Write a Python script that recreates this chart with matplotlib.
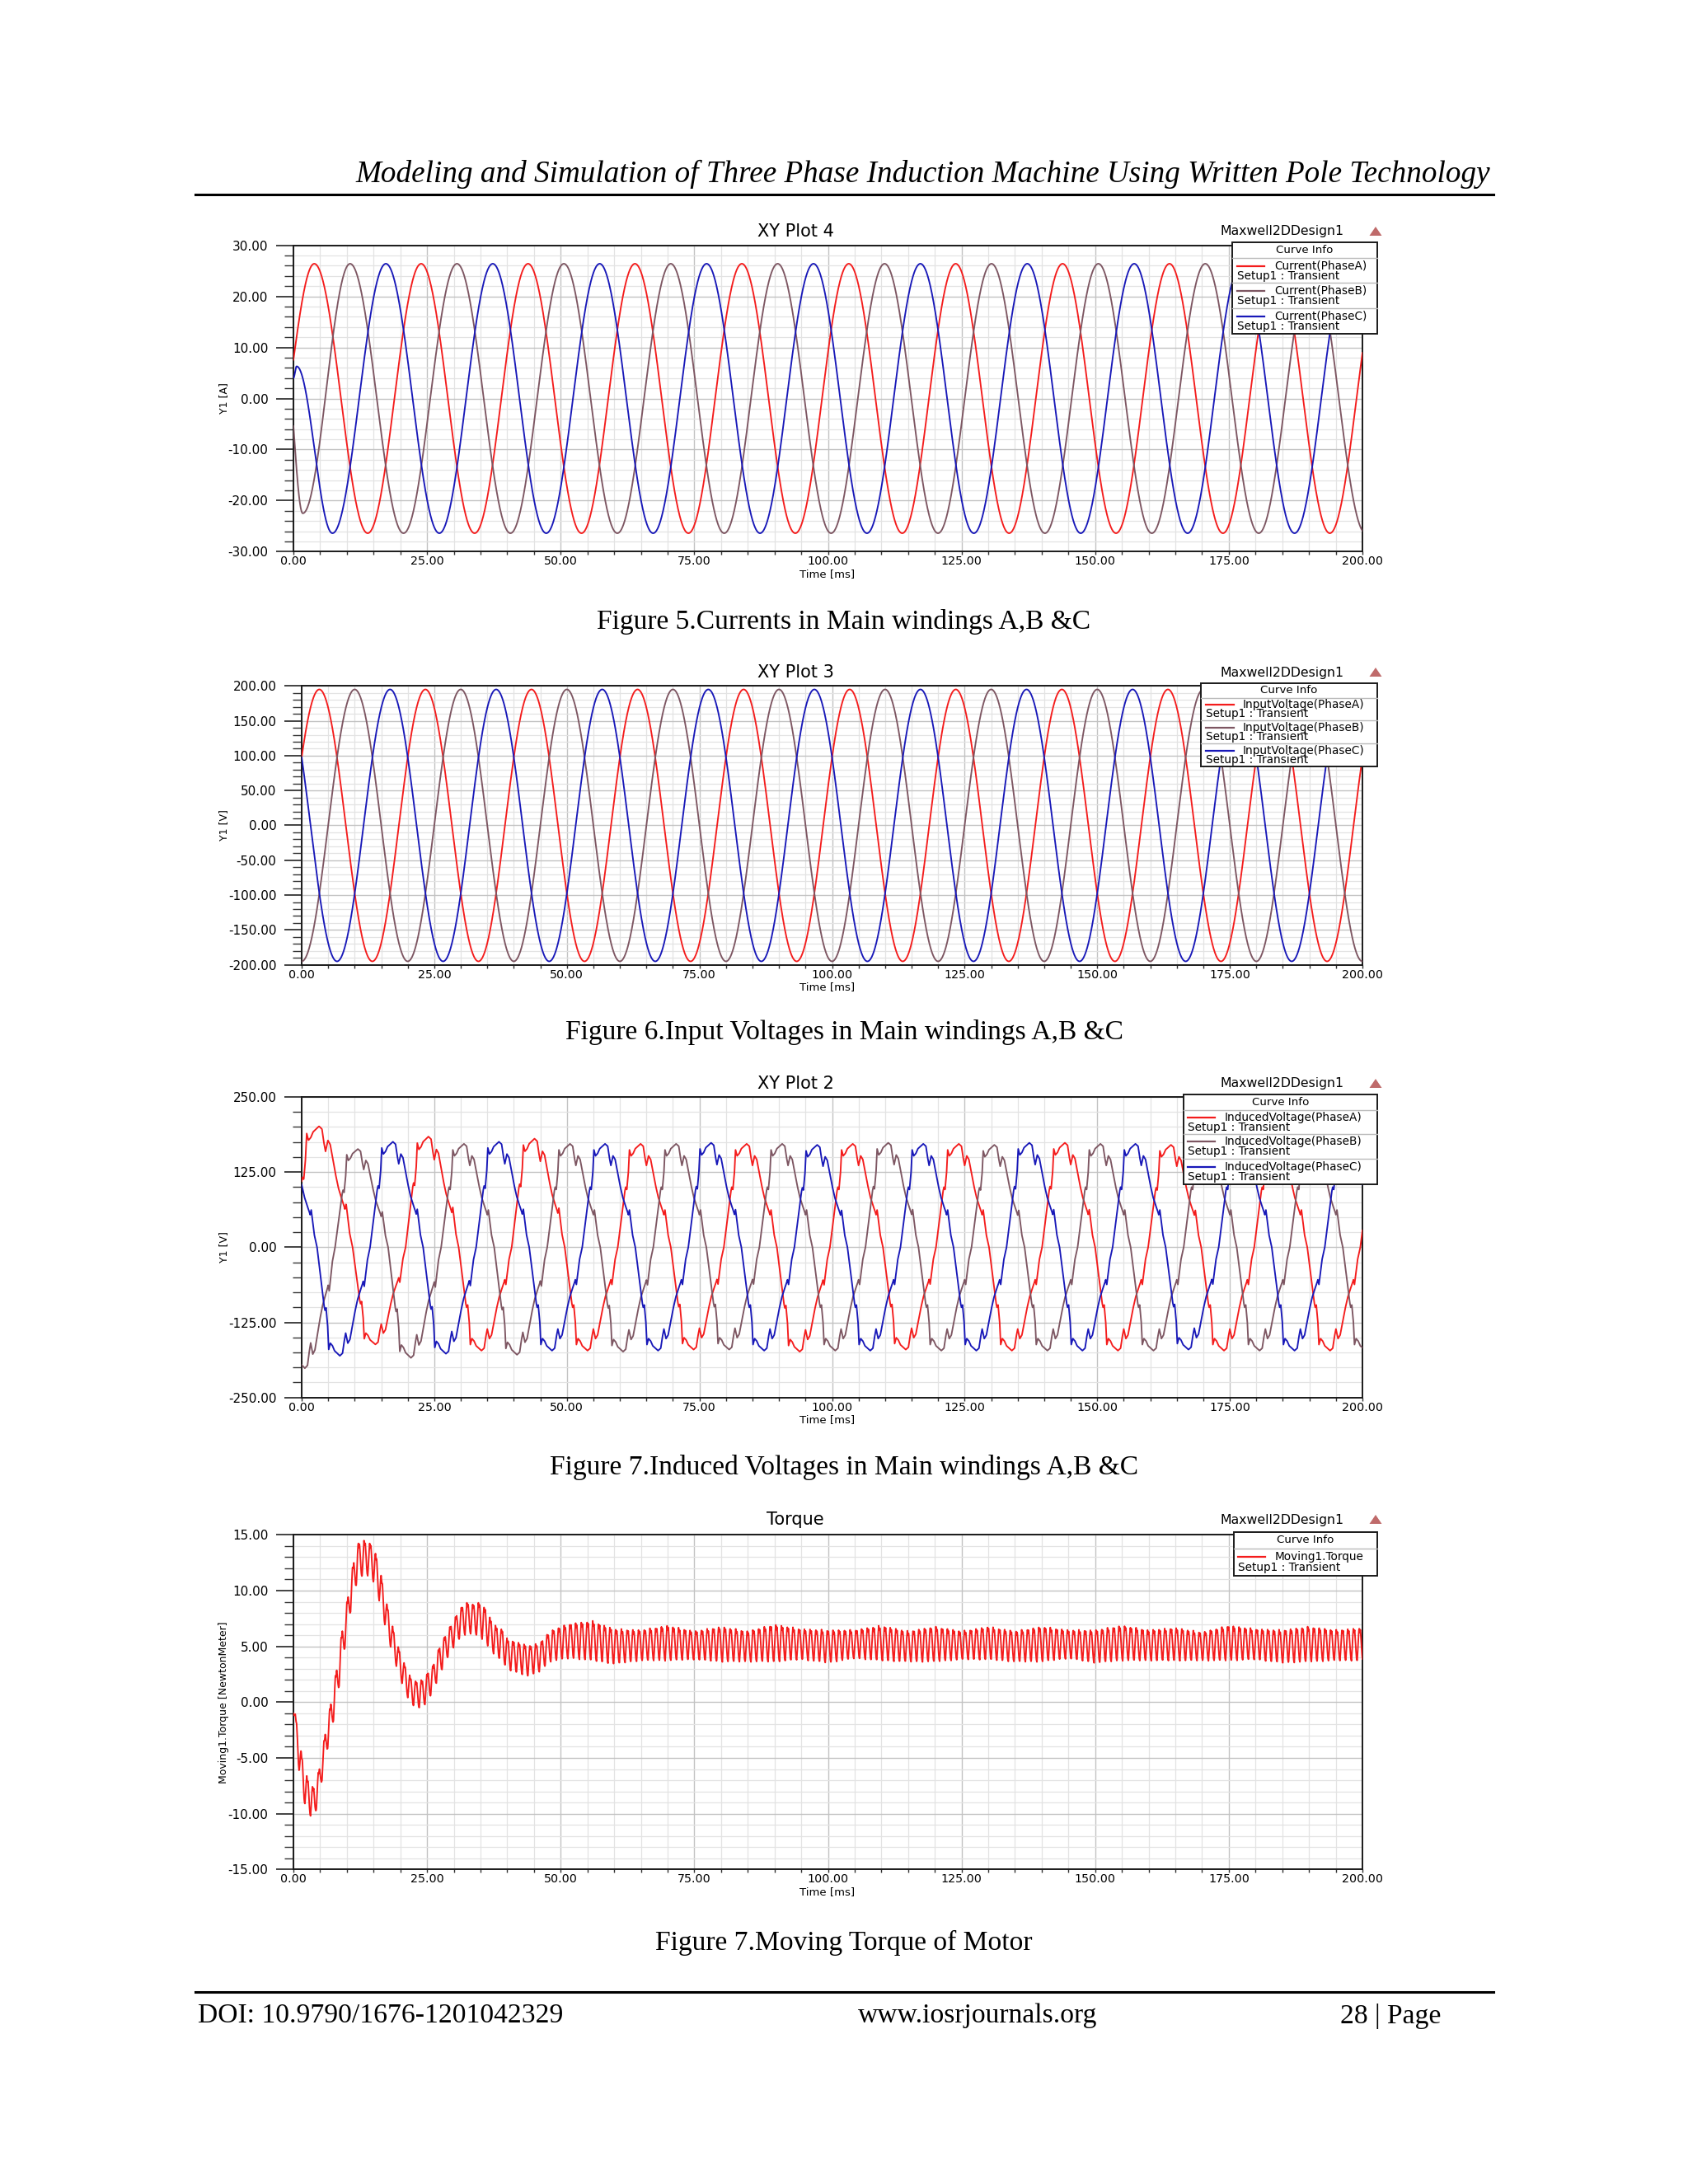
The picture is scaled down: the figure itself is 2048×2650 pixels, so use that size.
import numpy as np
import matplotlib
matplotlib.use("Agg")
import matplotlib.pyplot as plt
from matplotlib.ticker import MultipleLocator, FormatStrFormatter
from matplotlib.patches import Rectangle, Polygon

# ======================= DATA =======================
HEADER = "Modeling and Simulation of Three Phase Induction Machine Using Written Pole Technology"
FOOT_LEFT = "DOI: 10.9790/1676-1201042329"
FOOT_MID = "www.iosrjournals.org"
FOOT_RIGHT = "28 | Page"

PLOT_TITLES = ["XY Plot 4", "XY Plot 3", "XY Plot 2", "Torque"]
CAPTIONS = ["Figure 5.Currents in Main windings A,B &C",
            "Figure 6.Input Voltages in Main windings A,B &C",
            "Figure 7.Induced Voltages in Main windings A,B &C",
            "Figure 7.Moving Torque of Motor"]
YLABELS = ["Y1 [A]", "Y1 [V]", "Y1 [V]", "Moving1.Torque [NewtonMeter]"]
XLABEL = "Time [ms]"
DESIGN = "Maxwell2DDesign1"

LEG_CURRENT = ["Current(PhaseA)", "Current(PhaseB)", "Current(PhaseC)"]
LEG_INPUT = ["InputVoltage(PhaseA)", "InputVoltage(PhaseB)", "InputVoltage(PhaseC)"]
LEG_INDUCED = ["InducedVoltage(PhaseA)", "InducedVoltage(PhaseB)", "InducedVoltage(PhaseC)"]
LEG_TORQUE = ["Moving1.Torque"]
LEG_SETUP = "Setup1 : Transient"

# Currents: extremum times [ms] and values [A]
CUR_A_T = [-4.0, 3.9, 13.9, 23.9, 33.9, 43.9, 53.9, 63.9, 73.9, 83.9, 93.9, 103.9,
           113.9, 123.9, 133.9, 143.9, 153.9, 163.9, 173.9, 183.9, 193.9, 203.9]
CUR_A_V = [-12.0, 26.4, -26.4, 26.4, -26.4, 26.4, -26.4, 26.4, -26.4, 26.4, -26.4, 26.4,
           -26.4, 26.4, -26.4, 26.4, -26.4, 26.4, -26.4, 26.4, -26.4, 26.4]
CUR_B_T = [-1.5, 1.75, 10.6, 20.6, 30.6, 40.6, 50.6, 60.6, 70.6, 80.6, 90.6, 100.6,
           110.6, 120.6, 130.6, 140.6, 150.6, 160.6, 170.6, 180.6, 190.6, 200.6]
CUR_B_V = [8.0, -22.5, 26.4, -26.4, 26.4, -26.4, 26.4, -26.4, 26.4, -26.4, 26.4, -26.4,
           26.4, -26.4, 26.4, -26.4, 26.4, -26.4, 26.4, -26.4, 26.4, -26.4]
CUR_C_T = [0.0, 0.6, 7.3, 17.3, 27.3, 37.3, 47.3, 57.3, 67.3, 77.3, 87.3, 97.3,
           107.3, 117.3, 127.3, 137.3, 147.3, 157.3, 167.3, 177.3, 187.3, 197.3, 207.3]
CUR_C_V = [4.0, 6.3, -26.4, 26.4, -26.4, 26.4, -26.4, 26.4, -26.4, 26.4, -26.4, 26.4,
           -26.4, 26.4, -26.4, 26.4, -26.4, 26.4, -26.4, 26.4, -26.4, 26.4, -26.4]

# Input voltages: extremum times [ms] and values [V]
VIN_A_T = [-6.67, 3.33, 13.33, 23.33, 33.33, 43.33, 53.33, 63.33, 73.33, 83.33, 93.33,
           103.33, 113.33, 123.33, 133.33, 143.33, 153.33, 163.33, 173.33, 183.33, 193.33, 203.33]
VIN_A_V = [-195, 195, -195, 195, -195, 195, -195, 195, -195, 195, -195,
           195, -195, 195, -195, 195, -195, 195, -195, 195, -195, 195]
VIN_B_T = [-10.0, 0.0, 10.0, 20.0, 30.0, 40.0, 50.0, 60.0, 70.0, 80.0, 90.0,
           100.0, 110.0, 120.0, 130.0, 140.0, 150.0, 160.0, 170.0, 180.0, 190.0, 200.0]
VIN_B_V = [195, -195, 195, -195, 195, -195, 195, -195, 195, -195, 195,
           -195, 195, -195, 195, -195, 195, -195, 195, -195, 195, -195]
VIN_C_T = [-3.33, 6.67, 16.67, 26.67, 36.67, 46.67, 56.67, 66.67, 76.67, 86.67, 96.67,
           106.67, 116.67, 126.67, 136.67, 146.67, 156.67, 166.67, 176.67, 186.67, 196.67, 206.67]
VIN_C_V = [195, -195, 195, -195, 195, -195, 195, -195, 195, -195, 195,
           -195, 195, -195, 195, -195, 195, -195, 195, -195, 195, -195]

# Induced voltage: shape of one positive half cycle (ms from zero crossing, volts)
IND_SHAPE_T = [0.0, 0.4, 0.9, 1.3, 1.5, 1.7, 2.0, 2.2, 2.5, 2.9, 3.3, 3.8, 4.3, 4.8,
               5.1, 5.4, 5.8, 6.2, 6.6, 7.1, 7.6, 8.1, 8.5, 8.7, 8.9, 9.5, 10.0]
IND_SHAPE_V = [0, 28, 62, 92, 100, 96, 125, 162, 152, 156, 164, 168, 172, 168,
               150, 136, 152, 146, 128, 104, 84, 70, 60, 54, 62, 20, 0]
# half-cycle start times [ms], first-half polarity and per-half amplitude factors
IND_A_START = [-1.5, 9.6, 19.6, 29.6, 39.6, 49.6, 59.6, 69.6, 79.6, 89.6, 99.6,
               109.6, 119.6, 129.6, 139.6, 149.6, 159.6, 169.6, 179.6, 189.6, 199.6, 209.6]
IND_A_AMP = [1.17, 0.94, 1.07, 1.00, 1.05, 1.00, 1.00, 0.99, 1.00, 1.01, 1.00,
             0.99, 1.00, 1.00, 1.01, 1.00, 0.99, 1.00, 1.00, 1.00, 1.00]
IND_B_START = [-3.7, 6.3, 16.3, 26.3, 36.3, 46.3, 56.3, 66.3, 76.3, 86.3, 96.3,
               106.3, 116.3, 126.3, 136.3, 146.3, 156.3, 166.3, 176.3, 186.3, 196.3, 206.3]
IND_B_AMP = [1.17, 0.95, 1.07, 1.00, 1.04, 1.00, 1.01, 1.00, 0.99, 1.00, 1.00,
             1.01, 1.00, 0.99, 1.00, 1.00, 1.00, 1.00, 1.00, 1.00, 1.00]
IND_C_START = [-7.1, 2.9, 12.9, 22.9, 32.9, 42.9, 52.9, 62.9, 72.9, 82.9, 92.9,
               102.9, 112.9, 122.9, 132.9, 142.9, 152.9, 162.9, 172.9, 182.9, 192.9, 202.9]
IND_C_AMP = [1.00, 1.05, 1.02, 1.03, 1.02, 1.00, 1.00, 1.00, 1.01, 1.00, 0.99,
             1.00, 1.00, 1.00, 1.01, 1.00, 1.00, 0.99, 1.00, 1.00, 1.00]
IND_POLARITY = [1, -1, 1]

# Torque: slow mean level and ripple half-range [N.m], ripple shape over one period
TQ_T = [0, 1, 2, 3, 4, 5, 6, 7, 8, 9, 10, 11, 12, 13, 14, 15, 16, 17, 18, 19, 20, 21, 22,
        23, 24, 25, 26, 27, 28, 29, 30, 31, 32, 33, 34, 35, 36, 37, 38, 39, 40, 42, 44,
        46, 48, 50, 52, 56, 60, 65, 70, 75, 80, 85, 90, 95, 100, 105, 110, 115, 120, 125,
        130, 135, 140, 145, 150, 155, 160, 165, 170, 175, 180, 185, 190, 195, 200]
TQ_MEAN = [-0.5, -4.5, -7.5, -8.7, -9.0, -6.8, -3.8, -1.5, 1.2, 4.5, 7.5, 10.5, 12.6, 12.9,
           12.9, 12.3, 10.8, 8.5, 6.5, 4.8, 3.2, 2.0, 1.0, 0.7, 0.7, 1.3, 2.0, 3.3, 4.4, 5.3,
           6.2, 6.9, 7.5, 7.5, 7.4, 7.4, 6.8, 6.0, 5.4, 5.2, 4.3, 4.0, 3.7, 4.0, 5.0, 5.3,
           5.5, 5.5, 5.0, 5.1, 5.3, 5.1, 5.2, 5.0, 5.3, 5.2, 5.0, 5.2, 5.3, 5.0, 5.2, 5.1,
           5.3, 5.0, 5.2, 5.2, 5.0, 5.3, 5.1, 5.2, 5.0, 5.3, 5.2, 5.0, 5.2, 5.1, 5.2]
TQ_HALF = [0.5, 1.5, 1.5, 1.5, 1.3, 1.3, 1.2, 1.5, 1.6, 1.6, 1.5, 1.5, 1.7, 1.6, 1.6, 1.6,
           1.6, 1.4, 1.3, 1.2, 1.2, 1.2, 1.2, 1.2, 1.3, 1.3, 1.2, 1.3, 1.3, 1.2, 1.3, 1.3,
           1.5, 1.4, 1.4, 1.6, 1.6, 1.4, 1.4, 1.4, 1.4, 1.4, 1.4, 1.3, 1.4, 1.5, 1.6, 1.8,
           1.6, 1.4, 1.6, 1.3, 1.6, 1.4, 1.7, 1.4, 1.5, 1.3, 1.6, 1.4, 1.6, 1.3, 1.5, 1.4,
           1.6, 1.3, 1.5, 1.6, 1.4, 1.5, 1.3, 1.6, 1.4, 1.5, 1.6, 1.4, 1.5]
TQ_RIPPLE_PERIOD = 1.07
TQ_RIPPLE_SHAPE = [-1.0, -0.35, 0.45, 1.0, 0.7, 0.9, 0.35, -0.35, -0.85]

# ======================= helpers =======================
W, H = 2048, 2650
C_RED, C_BRN, C_BLU = "#f41c1c", "#7d5662", "#1818b8"


def extrema_curve(t_ext, v_ext, t):
    te = np.asarray(t_ext, float)
    ve = np.asarray(v_ext, float)
    i = np.clip(np.searchsorted(te, t, side="right") - 1, 0, len(te) - 2)
    s = np.clip((t - te[i]) / (te[i + 1] - te[i]), 0, 1)
    return ve[i] + (ve[i + 1] - ve[i]) * (1 - np.cos(np.pi * s)) / 2


def halfcycle_curve(starts, amps, pol, t):
    st = np.asarray(starts, float)
    am = np.asarray(amps, float)
    i = np.clip(np.searchsorted(st, t, side="right") - 1, 0, len(st) - 2)
    tau = (t - st[i]) / (st[i + 1] - st[i]) * 10.0
    base = np.interp(tau, IND_SHAPE_T, IND_SHAPE_V)
    sign = np.where(i % 2 == 0, 1, -1) * pol
    return sign * am[i] * base


def torque_curve(t):
    mean = np.interp(t, TQ_T, TQ_MEAN)
    half = np.interp(t, TQ_T, TQ_HALF)
    shp = list(TQ_RIPPLE_SHAPE) + [TQ_RIPPLE_SHAPE[0]]
    ph = (t % TQ_RIPPLE_PERIOD) / TQ_RIPPLE_PERIOD * (len(shp) - 1)
    rip = np.interp(ph, np.arange(len(shp)), shp)
    return mean + half * rip


def rect(l, t, r, b):
    return [l / W, 1 - b / H, (r - l) / W, (b - t) / H]


fig = plt.figure(figsize=(W / 100, H / 100), dpi=100)
fig.patch.set_facecolor("white")

# plot boxes (pixel extents) and settings
BOXES = [(356, 297.7, 1653, 669.3), (366, 832.3, 1653, 1170.7),
         (366, 1331.0, 1653, 1695.7), (356, 1862.3, 1653, 2268.3)]
YLIMS = [(-30, 30, 10, 2), (-200, 200, 50, 10), (-250, 250, 125, 25), (-15, 15, 5, 1)]

t = np.linspace(0, 200, 4001)
series = [
    [(extrema_curve(CUR_A_T, CUR_A_V, t), C_RED), (extrema_curve(CUR_B_T, CUR_B_V, t), C_BRN),
     (extrema_curve(CUR_C_T, CUR_C_V, t), C_BLU)],
    [(extrema_curve(VIN_A_T, VIN_A_V, t), C_RED), (extrema_curve(VIN_B_T, VIN_B_V, t), C_BRN),
     (extrema_curve(VIN_C_T, VIN_C_V, t), C_BLU)],
    [(halfcycle_curve(IND_A_START, IND_A_AMP, IND_POLARITY[0], t), C_RED),
     (halfcycle_curve(IND_B_START, IND_B_AMP, IND_POLARITY[1], t), C_BRN),
     (halfcycle_curve(IND_C_START, IND_C_AMP, IND_POLARITY[2], t), C_BLU)],
    [(torque_curve(t), C_RED)],
]

axes = []
for k in range(4):
    ax = fig.add_axes(rect(*BOXES[k]))
    ymin, ymax, ymaj, ymn = YLIMS[k]
    for y, c in series[k]:
        ax.plot(t, y, color=c, lw=1.35, zorder=3)
    ax.set_xlim(0, 200)
    ax.set_ylim(ymin, ymax)
    ax.xaxis.set_major_locator(MultipleLocator(25))
    ax.xaxis.set_minor_locator(MultipleLocator(5))
    ax.yaxis.set_major_locator(MultipleLocator(ymaj))
    ax.yaxis.set_minor_locator(MultipleLocator(ymn))
    ax.xaxis.set_major_formatter(FormatStrFormatter("%.2f"))
    ax.yaxis.set_major_formatter(FormatStrFormatter("%.2f"))
    ax.grid(which="major", color="#c2c2c2", lw=1.0, zorder=1)
    ax.grid(which="minor", color="#e3e3e3", lw=0.9, zorder=0)
    ax.set_axisbelow(True)
    ax.tick_params(axis="y", which="major", direction="out", length=15, width=1.2,
                   pad=7, labelsize=11, color="#222222")
    ax.tick_params(axis="y", which="minor", direction="out", length=8, width=1.0, color="#333333")
    ax.tick_params(axis="x", which="major", direction="out", length=3, width=1.0,
                   pad=0.5, labelsize=10.3, color="#333333")
    ax.tick_params(axis="x", which="minor", direction="out", length=3, width=1.0, color="#333333")
    for s in ax.spines.values():
        s.set_linewidth(1.4)
        s.set_color("#1a1a1a")
    axes.append(ax)

# overlay in pixel coordinates for page furniture, legends, titles
ov = fig.add_axes([0, 0, 1, 1], zorder=10)
ov.set_xlim(0, W)
ov.set_ylim(H, 0)
ov.axis("off")
ov.patch.set_alpha(0)

SERIF = "Liberation Serif"
ov.text(1808, 211, HEADER, ha="right", va="center", family=SERIF, style="italic", fontsize=26.7)
ov.plot([237, 1812], [236, 236], color="black", lw=2.2)
ov.plot([237, 1812], [2417, 2417], color="black", lw=2.2)
ov.text(240, 2446, FOOT_LEFT, ha="left", va="center", family=SERIF, fontsize=24.2)
ov.text(1186, 2446, FOOT_MID, ha="center", va="center", family=SERIF, fontsize=24.2)
ov.text(1748, 2446, FOOT_RIGHT, ha="right", va="center", family=SERIF, fontsize=24.2)

CAP_Y = [755, 1252, 1781, 2357]
for k in range(4):
    ov.text(1024, CAP_Y[k], CAPTIONS[k], ha="center", va="center", family=SERIF, fontsize=24.1)

TITLE_Y = [281, 816, 1315, 1844]
YLAB_X = [272, 272, 272, 271]
for k in range(4):
    l, tp, r, b = BOXES[k]
    ov.text(965, TITLE_Y[k], PLOT_TITLES[k], ha="center", va="center", fontsize=15)
    ov.text(1556, TITLE_Y[k], DESIGN, ha="center", va="center", fontsize=11.3)
    ov.add_patch(Polygon([[1661.5, TITLE_Y[k] + 5], [1676.5, TITLE_Y[k] + 5],
                          [1669, TITLE_Y[k] - 6]], closed=True, color="#bf6a6a", lw=0))
    ov.text(YLAB_X[k], (tp + b) / 2, YLABELS[k], rotation=90, ha="center", va="center", fontsize=9)
    ov.text(1004, b + 27, XLABEL, ha="center", va="center", fontsize=9.5)


def legend(box, header_bottom, row_bottoms, line_x, text_x, labels, colors):
    l, tp, r, b = box
    ov.add_patch(Rectangle((l, tp), r - l, b - tp, facecolor="white", edgecolor="#1a1a1a", lw=1.4))
    ov.text((l + r) / 2, (tp + header_bottom) / 2, "Curve Info", ha="center", va="center", fontsize=9.6)
    ov.plot([l, r], [header_bottom, header_bottom], color="#bbbbbb", lw=1.0)
    top = header_bottom
    for i, (lab, c) in enumerate(zip(labels, colors)):
        rb = row_bottoms[i]
        if i < len(labels) - 1:
            ov.plot([l, r], [rb, rb], color="#bbbbbb", lw=1.0)
        h = rb - top
        ov.plot(line_x, [top + 0.31 * h, top + 0.31 * h], color=c, lw=1.6)
        ov.text(text_x, top + 0.31 * h, lab, ha="left", va="center", fontsize=9.8)
        ov.text(line_x[0], top + 0.71 * h, LEG_SETUP, ha="left", va="center", fontsize=9.8)
        top = rb


legend((1495, 294.3, 1670.7, 405), 313.3, [343.3, 374.3, 405], [1501, 1534], 1546,
       LEG_CURRENT, [C_RED, C_BRN, C_BLU])
legend((1457, 829, 1671, 930), 846.7, [874.3, 902.3, 930], [1463, 1497], 1508,
       LEG_INPUT, [C_RED, C_BRN, C_BLU])
legend((1436, 1328, 1671, 1437), 1347, [1376, 1406, 1437], [1441, 1474], 1486,
       LEG_INDUCED, [C_RED, C_BRN, C_BLU])
legend((1497, 1859, 1671, 1912), 1879, [1912], [1502, 1535], 1547,
       LEG_TORQUE, [C_RED])

fig.savefig("out.png", dpi=100, facecolor="white")
